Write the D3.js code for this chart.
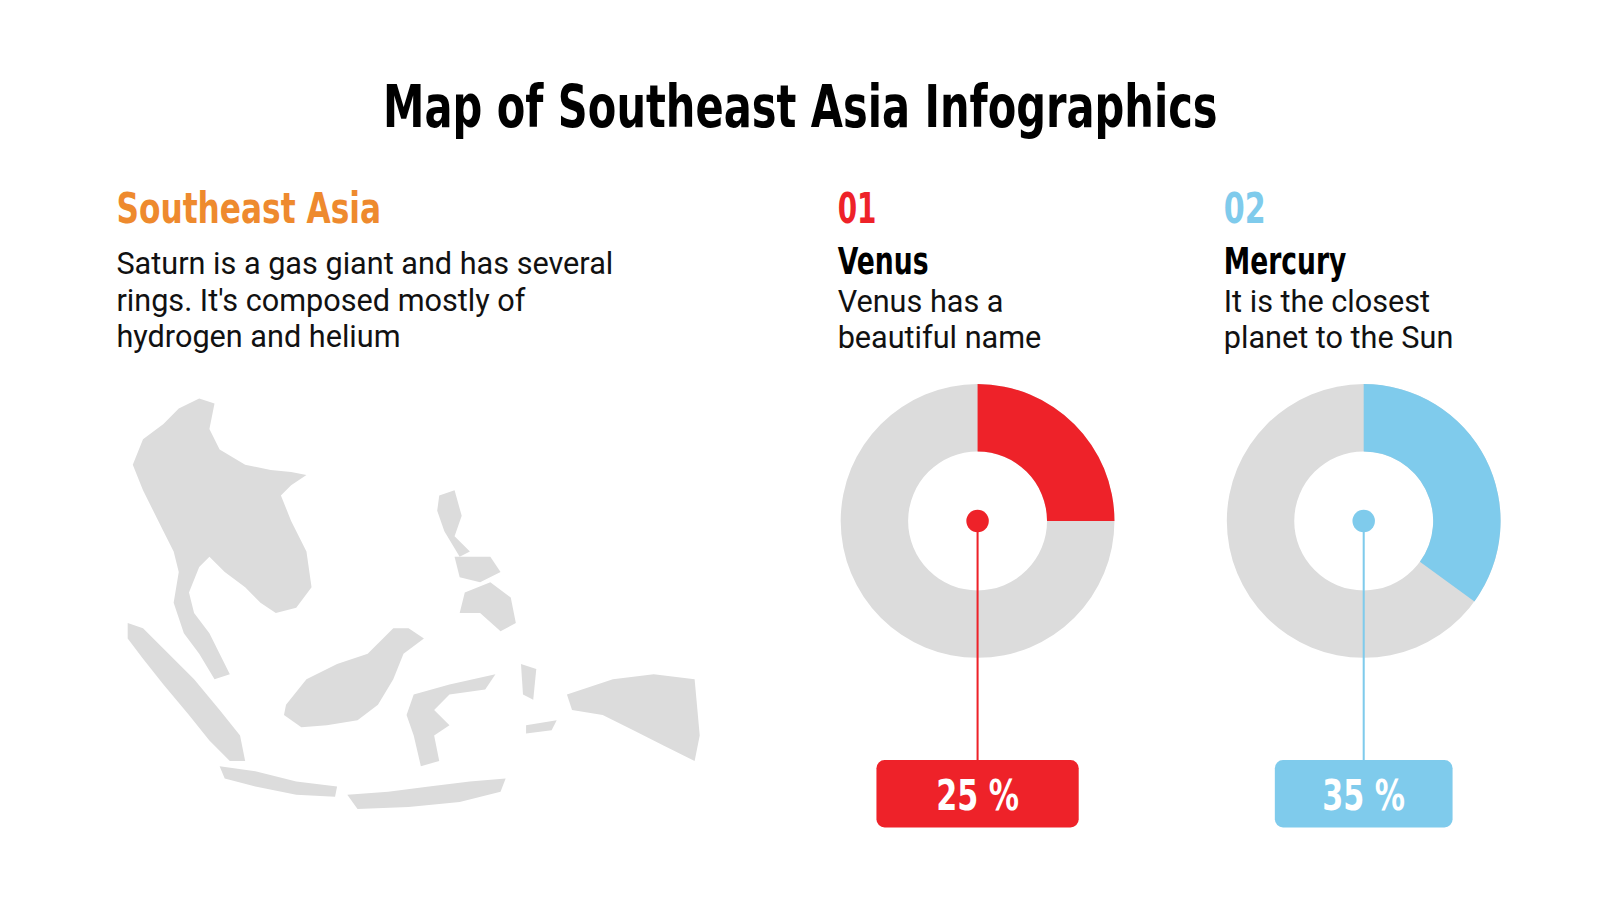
<!DOCTYPE html>
<html>
<head>
<meta charset="utf-8">
<script src="https://cdn.jsdelivr.net/npm/d3@7"></script>
<style>
  body { margin: 0; background: #fff; }
  .cond { font-family: "Liberation Sans Narrow", "DejaVu Sans Condensed", "Roboto Condensed", sans-serif; font-weight: bold; }
  .body { font-family: Roboto, "Noto Sans", sans-serif; }
</style>
</head>
<body>
<svg id="chart" width="1600" height="900"></svg>
<script>
// data
var cards = ["01", "02"];
var names = ["Venus", "Mercury"];
var descriptions = [["Venus has a", "beautiful name"], ["It is the closest", "planet to the Sun"]];
var values = [25, 35];
var colors = ["#ee2229", "#7fcbec"];
var introLines = ["Saturn is a gas giant and has several", "rings. It's composed mostly of", "hydrogen and helium"];

// rough map outlines, in map units (0..570 x 0..415)
var mapShapes = [
  [[75,5],[90,10],[85,35],[95,55],[120,70],[145,75],[165,77],[180,80],[165,90],[155,100],[165,125],[180,155],[185,190],[170,210],[150,215],[135,205],[120,190],[100,175],[85,160],[75,170],[65,195],[70,215],[85,235],[95,255],[105,275],[90,280],[75,255],[60,235],[50,205],[55,175],[50,155],[40,135],[30,115],[20,95],[10,70],[20,45],[40,30],[55,15]],
  [[5,225],[20,230],[45,255],[70,280],[95,310],[115,335],[120,360],[105,360],[85,340],[65,315],[40,285],[20,260],[5,240]],
  [[95,365],[130,370],[170,380],[210,385],[208,395],[170,393],[130,385],[100,377]],
  [[160,305],[180,280],[210,265],[240,255],[265,230],[280,230],[295,240],[275,255],[265,280],[250,305],[230,320],[200,325],[175,327],[158,315]],
  [[285,295],[320,285],[365,275],[355,290],[320,295],[305,310],[320,325],[305,335],[310,360],[292,365],[285,335],[278,315]],
  [[310,100],[325,95],[332,120],[325,140],[340,155],[330,160],[315,135],[308,115]],
  [[325,160],[360,160],[370,175],[350,185],[330,180]],
  [[335,195],[360,185],[380,200],[385,225],[370,233],[350,215],[330,215]],
  [[435,295],[480,280],[520,275],[560,280],[565,335],[560,360],[530,345],[500,330],[470,315],[440,310]],
  [[220,393],[260,390],[300,385],[340,380],[375,377],[370,390],[330,400],[280,405],[230,407]],
  [[390,265],[405,270],[402,300],[392,295]],
  [[395,325],[425,320],[420,330],[395,333]]
];

var svg = d3.select("#chart").append("g").attr("transform", "scale(1.0215)");

function cond(sel, len) {
  return sel.attr("class", "cond").attr("textLength", len).attr("lengthAdjust", "spacingAndGlyphs");
}

cond(svg.append("text"), 817).attr("x", 375).attr("y", 124)
  .attr("font-size", 58).attr("fill", "#000")
  .text("Map of Southeast Asia Infographics");

cond(svg.append("text"), 259).attr("x", 114).attr("y", 218)
  .attr("font-size", 42).attr("fill", "#ee8a2e").text("Southeast Asia");

svg.append("g").selectAll("text").data(introLines).enter().append("text")
  .attr("class", "body").attr("x", 114).attr("y", function(d, i) { return 268 + i * 36; })
  .attr("font-size", 30).attr("fill", "#111").text(function(d) { return d; });

// map
var mx = d3.scaleLinear().domain([0, 570]).range([120, 690]);
var my = d3.scaleLinear().domain([0, 415]).range([385, 800]);
var shapeLine = d3.line().x(function(d) { return mx(d[0]); }).y(function(d) { return my(d[1]); })
  .curve(d3.curveLinearClosed);
svg.append("g").selectAll("path").data(mapShapes).enter().append("path")
  .attr("d", shapeLine).attr("fill", "#dcdcdc");

// donuts
var centers = [957, 1335];
var boxW = [198, 174];
var numW = [38, 41];
var nameW = [89, 120];
var angle = d3.scaleLinear().domain([0, 100]).range([0, 2 * Math.PI]);
var arc = d3.arc().innerRadius(68).outerRadius(134);

cards.forEach(function(c, i) {
  var cx = centers[i], tx = cx - 137;
  var g = svg.append("g");
  cond(g.append("text"), numW[i]).attr("x", tx).attr("y", 218)
    .attr("font-size", 42).attr("fill", colors[i]).text(c);
  cond(g.append("text"), nameW[i]).attr("x", tx).attr("y", 268)
    .attr("font-size", 36).attr("fill", "#000").text(names[i]);
  g.selectAll("text.d").data(descriptions[i]).enter().append("text")
    .attr("class", "body d").attr("x", tx).attr("y", function(d, j) { return 305 + j * 36; })
    .attr("font-size", 30).attr("fill", "#111").text(function(d) { return d; });

  var dg = g.append("g").attr("transform", "translate(" + cx + ",510)");
  dg.append("path").attr("d", arc({ startAngle: 0, endAngle: 2 * Math.PI })).attr("fill", "#dcdcdc");
  dg.append("path").attr("d", arc({ startAngle: 0, endAngle: angle(values[i]) })).attr("fill", colors[i]);
  dg.append("line").attr("x1", 0).attr("y1", 0).attr("x2", 0).attr("y2", 235)
    .attr("stroke", colors[i]).attr("stroke-width", 2);
  dg.append("circle").attr("r", 11).attr("fill", colors[i]);

  g.append("rect").attr("x", cx - boxW[i] / 2).attr("y", 744).attr("width", boxW[i]).attr("height", 66)
    .attr("rx", 8).attr("fill", colors[i]);
  cond(g.append("text"), 81).attr("x", cx - 40.5).attr("y", 793)
    .attr("font-size", 42).attr("fill", "#fff").text(values[i] + " %");
});
</script>
</body>
</html>
